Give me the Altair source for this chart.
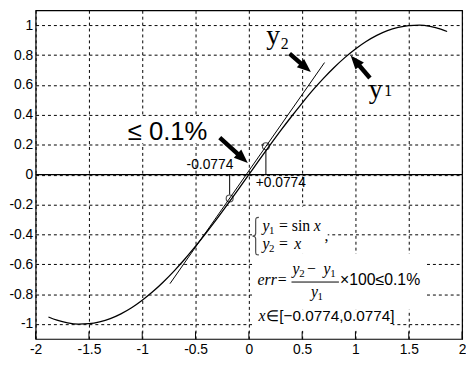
import math
import altair as alt
import pandas as pd

# ---- data ----
sine_x = [-1.88, -1.8, -1.7, -1.6, -1.5, -1.4, -1.3, -1.2, -1.1, -1.0,
          -0.9, -0.8, -0.7, -0.6, -0.5, -0.4, -0.3, -0.2, -0.1, 0.0,
          0.1, 0.2, 0.3, 0.4, 0.5, 0.6, 0.7, 0.8, 0.9, 1.0,
          1.1, 1.2, 1.3, 1.4, 1.5, 1.6, 1.7, 1.8, 1.86]
sine_y = [-0.953, -0.974, -0.992, -1.0, -0.997, -0.985, -0.964, -0.932, -0.891, -0.841,
          -0.783, -0.717, -0.644, -0.565, -0.479, -0.389, -0.296, -0.199, -0.1, 0.0,
          0.1, 0.199, 0.296, 0.389, 0.479, 0.565, 0.644, 0.717, 0.783, 0.841,
          0.891, 0.932, 0.964, 0.985, 0.997, 1.0, 0.992, 0.974, 0.958]
line_x = [-0.74, 0.71]
line_y = [-0.73, 0.75]
circle_x = [-0.18, 0.16]
circle_y = [-0.16, 0.19]
x_ticks = [-2, -1.5, -1, -0.5, 0, 0.5, 1, 1.5, 2]
y_ticks = [-1, -0.8, -0.6, -0.4, -0.2, 0, 0.2, 0.4, 0.6, 0.8, 1]

# ---- layout ----
W, H = 432, 333
XD = [-2, 2]
YD = [-1.1, 1.1]
SX = W / (XD[1] - XD[0])
SY = H / (YD[1] - YD[0])

xs = alt.Scale(domain=XD, nice=False, zero=False)
ys = alt.Scale(domain=YD, nice=False, zero=False)
label_expr = "datum.value < 0 ? '-' + format(-datum.value, '~g') : format(datum.value, '~g')"
common_axis = dict(grid=True, gridDash=[3, 3], gridColor="black", gridOpacity=1,
                   gridWidth=1, ticks=False, domain=False,
                   labelFont="Liberation Sans", labelFontSize=14, labelColor="black",
                   title=None, labelExpr=label_expr)
x_axis = alt.Axis(values=x_ticks, labelPadding=4, labelFlush=False, **common_axis)
y_axis = alt.Axis(values=y_ticks, labelPadding=3, **common_axis)


def X(f="x"):
    return alt.X(f"{f}:Q", scale=xs, axis=x_axis)


def Y(f="y"):
    return alt.Y(f"{f}:Q", scale=ys, axis=y_axis)


# white masks behind the formula block and the big label
masks = pd.DataFrame([
    (-1.16, -0.36, 0.21, 0.39),
    (0.03, 0.74, -0.215, -0.53),
    (0.03, 1.65, -0.53, -0.905),
    (0.03, 1.35, -0.905, -1.045),
], columns=["x", "x2", "y", "y2"])
mask_layer = alt.Chart(masks).mark_rect(color="white", strokeWidth=0).encode(
    x=X(), x2="x2:Q", y=Y(), y2="y2:Q")

zero_line = alt.Chart(pd.DataFrame({"y": [0]})).mark_rule(color="black", strokeWidth=1.1).encode(y=Y())

ticks_df = pd.DataFrame({"x": x_ticks, "y": [YD[0]] * len(x_ticks), "y2": [YD[0] + 0.05] * len(x_ticks)})
bottom_ticks = alt.Chart(ticks_df).mark_rule(color="black", strokeWidth=1).encode(x=X(), y=Y(), y2="y2:Q")

sine = alt.Chart(pd.DataFrame({"x": sine_x, "y": sine_y})).mark_line(
    color="black", strokeWidth=1.3, interpolate="monotone").encode(x=X(), y=Y())
straight = alt.Chart(pd.DataFrame({"x": line_x, "y": line_y})).mark_line(
    color="black", strokeWidth=1.0).encode(x=X(), y=Y())

r_data = 4 / SY
drops = pd.DataFrame({"x": circle_x,
                      "y": [0, circle_y[1] - r_data],
                      "y2": [circle_y[0] + r_data, 0]})
drop_lines = alt.Chart(drops).mark_rule(color="black", strokeWidth=1).encode(x=X(), y=Y(), y2="y2:Q")
circles = alt.Chart(pd.DataFrame({"x": circle_x, "y": circle_y})).mark_point(
    shape="circle", filled=False, color="black", size=50, strokeWidth=1.1).encode(x=X(), y=Y())

# arrows
HEAD = 14


def arrow(tail, tip):
    tx, ty = tail[0] * SX, -tail[1] * SY
    px, py = tip[0] * SX, -tip[1] * SY
    dx, dy = px - tx, py - ty
    L = math.hypot(dx, dy)
    ux, uy = dx / L, dy / L
    cx, cy = px - ux * HEAD / 2, py - uy * HEAD / 2
    ang = math.degrees(math.atan2(ux, -uy)) % 360
    return dict(x=tail[0], y=tail[1], x2=cx / SX, y2=-cy / SY, angle=ang)


arrow_df = pd.DataFrame([
    arrow((-0.273, 0.248), (-0.01, 0.078)),
    arrow((0.382, 0.81), (0.582, 0.686)),
    arrow((1.136, 0.647), (0.955, 0.797)),
])
shafts = alt.Chart(arrow_df).mark_rule(color="black", strokeWidth=4.5).encode(
    x=X(), y=Y(), x2="x2:Q", y2="y2:Q")
heads = alt.Chart(arrow_df).mark_point(
    shape="M0,-1L0.8,1L-0.8,1Z", filled=True, color="black", opacity=1,
    size=HEAD * HEAD, strokeWidth=0).encode(
    x=X("x2"), y=Y("y2"), angle=alt.Angle("angle:Q", scale=None))

# brace
brace_path = "M0.17,-1C0,-1,0,-0.95,0,-0.8L0,-0.15C0,-0.05,-0.05,0,-0.17,0C-0.05,0,0,0.05,0,0.15L0,0.8C0,0.95,0,1,0.17,1"
brace = alt.Chart(pd.DataFrame({"x": [0.064], "y": [-0.412]})).mark_point(
    shape=brace_path, filled=False, color="black", size=38 * 38, strokeWidth=1.2).encode(x=X(), y=Y())

frac_bar = alt.Chart(pd.DataFrame({"x": [0.40], "x2": [0.845], "y": [-0.719]})).mark_rule(
    color="black", strokeWidth=1).encode(x=X(), x2="x2:Q", y=Y())


def txt(items, font, style="normal", align="left"):
    df = pd.DataFrame(items, columns=["t", "x", "y", "s"])
    return alt.Chart(df).mark_text(font=font, fontStyle=style, align=align,
                                   baseline="alphabetic", color="black").encode(
        x=X(), y=Y(), text="t:N", size=alt.Size("s:Q", scale=None, legend=None))


sans_left = txt([
    ("≤ 0.1%", -1.136, 0.229, 26),
    ("+0.0774", 0.064, -0.085, 14),
    ("×100≤0.1%", 0.855, -0.739, 16),
    ("∈[−0.0774,0.0774]", 0.164, -0.98, 15.5),
], "Liberation Sans")
sans_right = txt([("-0.0774", -0.145, 0.04, 14)], "Liberation Sans", align="right")
serif_up = txt([
    ("y", 0.164, 0.873, 28), ("2", 0.30, 0.843, 16),
    ("y", 1.125, 0.513, 28), ("1", 1.27, 0.523, 16),
    ("1", 0.19, -0.399, 11), ("= sin", 0.282, -0.379, 16),
    ("2", 0.19, -0.516, 11), ("=", 0.282, -0.497, 16),
    (",", 0.71, -0.444, 16),
    ("=", 0.27, -0.739, 16),
    ("2", 0.473, -0.686, 11), ("−", 0.545, -0.667, 16), ("1", 0.764, -0.686, 11),
    ("1", 0.645, -0.837, 11),
], "Liberation Serif")
serif_it = txt([
    ("y", 0.127, -0.379, 16), ("x", 0.609, -0.379, 16),
    ("y", 0.127, -0.497, 16), ("x", 0.427, -0.497, 16),
    ("err", 0.082, -0.739, 16),
    ("y", 0.409, -0.667, 16), ("y", 0.70, -0.667, 16),
    ("y", 0.582, -0.817, 16),
    ("x", 0.091, -0.98, 16),
], "Liberation Serif", style="italic")

chart = alt.layer(
    mask_layer, zero_line, bottom_ticks, sine, straight, drop_lines, circles,
    shafts, heads, brace, frac_bar, sans_left, sans_right, serif_up, serif_it,
).properties(width=W, height=H, padding=0, background="white").configure_view(
    stroke="black", strokeWidth=1.2)

chart.save("out.html", embed_options={"renderer": "svg", "actions": False})
